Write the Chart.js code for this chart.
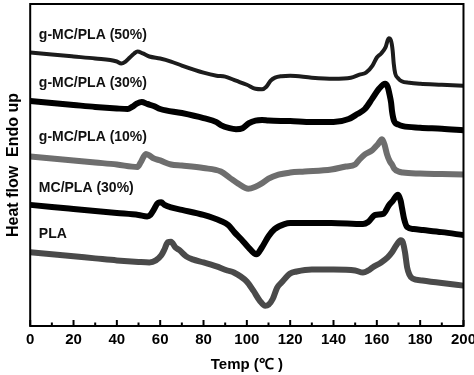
<!DOCTYPE html>
<html>
<head>
<meta charset="utf-8">
<script src="https://cdn.jsdelivr.net/npm/chart.js@4.4.1/dist/chart.umd.min.js"></script>
<style>
  html, body { margin: 0; padding: 0; background: #fff; overflow: hidden; }
  #wrap { width: 481px; height: 375px; position: relative; }
</style>
</head>
<body>
<div id="wrap"><canvas id="myChart"></canvas></div>
<script>
// DSC heating curves, heat flow in arbitrary units (endo up)
var temp50 = [0, 10, 20, 30, 40, 42, 44, 46, 48, 49.5, 52, 55, 60, 65, 70, 80, 86, 90, 95, 100, 104, 107, 109, 111, 113, 116, 120, 130, 140, 148, 152, 155, 158, 160, 162, 164, 165.5, 166.5, 167.3, 167.8, 168.5, 170, 171.5, 175, 180, 190, 200];
var flow50 = [271, 269, 267, 265, 262, 260, 262, 266, 270, 272, 270, 267, 265, 262, 258, 251, 248, 247, 243, 239, 235, 234.5, 237, 243, 246, 247.5, 248, 246, 245, 246, 249, 251, 258, 266, 270, 276, 285, 283, 273, 260, 250, 245, 242.5, 241, 240, 239, 238];

var temp30 = [0, 10, 20, 30, 40, 45, 47, 49, 51.5, 54, 57, 60, 70, 80, 86, 88, 92, 95, 98, 101, 104, 107, 110, 120, 130, 140, 147, 151, 154.5, 157.8, 161, 163.8, 165, 165.7, 166.6, 167, 168, 170, 172, 180, 190, 200];
var flow30 = [223, 221, 219, 217, 215.5, 215, 217, 220, 222, 220, 218, 215, 211, 206, 202, 199, 196, 195, 196, 201, 203.5, 204, 203.5, 203, 202, 202, 205, 210, 215, 225, 235, 240, 237, 231, 221, 213, 203, 199.5, 198, 196.5, 195.5, 194];

var temp10 = [0, 10, 20, 30, 40, 49.5, 51, 53.4, 55, 57, 60, 65, 70, 80, 88, 92, 96, 100.7, 104, 106.7, 110, 114.6, 120, 126.7, 139, 145.7, 150, 152, 154.5, 157.8, 159.6, 160.5, 162.4, 163.5, 164.7, 166, 167, 168, 170, 172, 180, 190, 200];
var flow10 = [168, 166, 164, 162, 160, 157.5, 162, 170.5, 169, 166, 164, 160, 159, 156.5, 153, 147, 141, 136, 138, 141, 146, 150, 152, 153, 155, 158, 160, 165, 170, 174, 178, 180, 185, 180, 170, 163, 160, 156, 153, 152, 151, 150.5, 150];

var tempMC = [0, 10, 20, 30, 40, 50, 54, 55.5, 57, 59, 60.5, 62, 65, 70, 80, 88, 91.4, 94.2, 97.4, 100.7, 104.4, 107, 110, 112.8, 117.4, 120, 130, 139, 153.6, 156, 159.2, 162.9, 165.7, 167, 169.8, 171, 171.7, 172.6, 174, 177, 181.4, 190, 200];
var flowMC = [120, 118, 116, 114, 112, 110, 108.5, 110, 115, 122, 122.5, 120, 117.5, 115, 110, 104, 100, 93, 86, 78, 71, 78, 89, 96, 101, 102, 102, 102, 101, 103, 110, 111, 120, 123, 130, 124, 116, 106, 98, 96, 95, 93, 90];

var tempPLA = [0, 10, 20, 30, 40, 50, 55, 58, 60.5, 62, 63.5, 65, 67, 69, 72, 75, 80, 86, 91, 94, 100, 103, 106, 108.5, 110, 112, 114, 116, 120, 123, 130, 140, 150, 153.6, 156, 158, 162, 165, 167, 169, 171, 172, 173, 174, 175, 176.5, 181, 190, 200];
var flowPLA = [73, 71, 69, 67, 65, 63.5, 63, 65, 70, 76, 83, 83.5, 78, 75, 69, 66, 63, 59, 55, 53, 44, 35, 25, 20, 21, 27, 38, 43, 52, 54, 56, 56, 55, 53, 55, 58, 63, 68, 73, 80, 85, 83, 73, 58, 51, 47, 45, 42.5, 40];

var seriesNames = ['g-MC/PLA (50%)', 'g-MC/PLA (30%)', 'g-MC/PLA (10%)', 'MC/PLA (30%)', 'PLA'];
// where each curve's name sits, in data units (temperature, heat flow)
var labelTemp = [4, 4, 4, 4, 4];
var labelFlow = [288, 241, 187, 137, 91];

var xTicks = [0, 20, 40, 60, 80, 100, 120, 140, 160, 180, 200];

function pts(t, v) {
  return t.map(function (x, i) { return { x: x, y: v[i] }; });
}

function curve(t, v, color, width, dash) {
  return {
    data: pts(t, v),
    borderColor: color,
    borderWidth: width,
    borderDash: dash || [],
    pointRadius: 0,
    fill: false,
    cubicInterpolationMode: 'monotone',
    borderCapStyle: 'round',
    borderJoinStyle: 'round'
  };
}

var datasets = [
  curve(temp50, flow50, '#1c1c1c', 4),
  curve(temp50, flow50, '#8c8c8c', 1.5, [2, 2]),
  curve(temp30, flow30, '#000', 6),
  curve(temp10, flow10, '#6e6e6e', 6),
  curve(temp10, flow10, '#d0d0d0', 2.5, [2, 2]),
  curve(tempMC, flowMC, '#000', 6),
  curve(tempPLA, flowPLA, '#4a4a4a', 6),
  curve(tempPLA, flowPLA, '#a8a8a8', 2, [2, 2])
];

var FONT = '"Liberation Sans", Arial, sans-serif';

// frame, inward x ticks and curve names
var decor = {
  id: 'decor',
  afterDraw: function (chart) {
    var ctx = chart.ctx;
    var a = chart.chartArea;
    var xs = chart.scales.x;
    var ys = chart.scales.y;
    ctx.save();
    ctx.strokeStyle = '#000';
    ctx.lineWidth = 2;
    ctx.strokeRect(a.left, a.top, a.right - a.left, a.bottom - a.top);
    xs.ticks.forEach(function (tk) {
      var px = xs.getPixelForValue(tk.value);
      var major = tk.value % 20 === 0;
      ctx.beginPath();
      ctx.moveTo(px, a.bottom);
      ctx.lineTo(px, a.bottom - (major ? 6 : 3.5));
      ctx.stroke();
    });
    ctx.fillStyle = '#111';
    ctx.font = 'bold 14px ' + FONT;
    ctx.textBaseline = 'middle';
    ctx.textAlign = 'left';
    seriesNames.forEach(function (name, i) {
      ctx.fillText(name, xs.getPixelForValue(labelTemp[i]), ys.getPixelForValue(labelFlow[i]));
    });
    ctx.restore();
  }
};

var ctx = document.getElementById('myChart').getContext('2d');
var myChart = new Chart(ctx, {
  type: 'line',
  data: { datasets: datasets },
  options: {
    responsive: true,
    maintainAspectRatio: false,
    animation: false,
    layout: { padding: { left: 2, top: 4, right: 0, bottom: 0 } },
    plugins: { legend: { display: false }, tooltip: { enabled: false } },
    scales: {
      x: {
        type: 'linear',
        min: 0,
        max: 200,
        grid: { display: false, drawTicks: false },
        border: { display: false },
        ticks: {
          stepSize: 10,
          padding: 5,
          color: '#000',
          font: { family: FONT, size: 15, weight: 'bold' },
          callback: function (v) { return xTicks.indexOf(v) >= 0 ? String(v) : ''; },
          autoSkip: false,
          maxRotation: 0
        },
        title: {
          display: true,
          text: 'Temp (℃ )',
          color: '#000',
          font: { family: FONT, size: 15, weight: 'bold' },
          padding: { top: 2, bottom: 1 }
        }
      },
      y: {
        min: 0,
        max: 319,
        grid: { display: false, drawTicks: false },
        border: { display: false },
        ticks: { display: false },
        title: {
          display: true,
          text: 'Heat flow  Endo up',
          color: '#000',
          font: { family: FONT, size: 16, weight: 'bold' },
          padding: { top: 2, bottom: 7 }
        }
      }
    }
  },
  plugins: [decor]
});
</script>
</body>
</html>
